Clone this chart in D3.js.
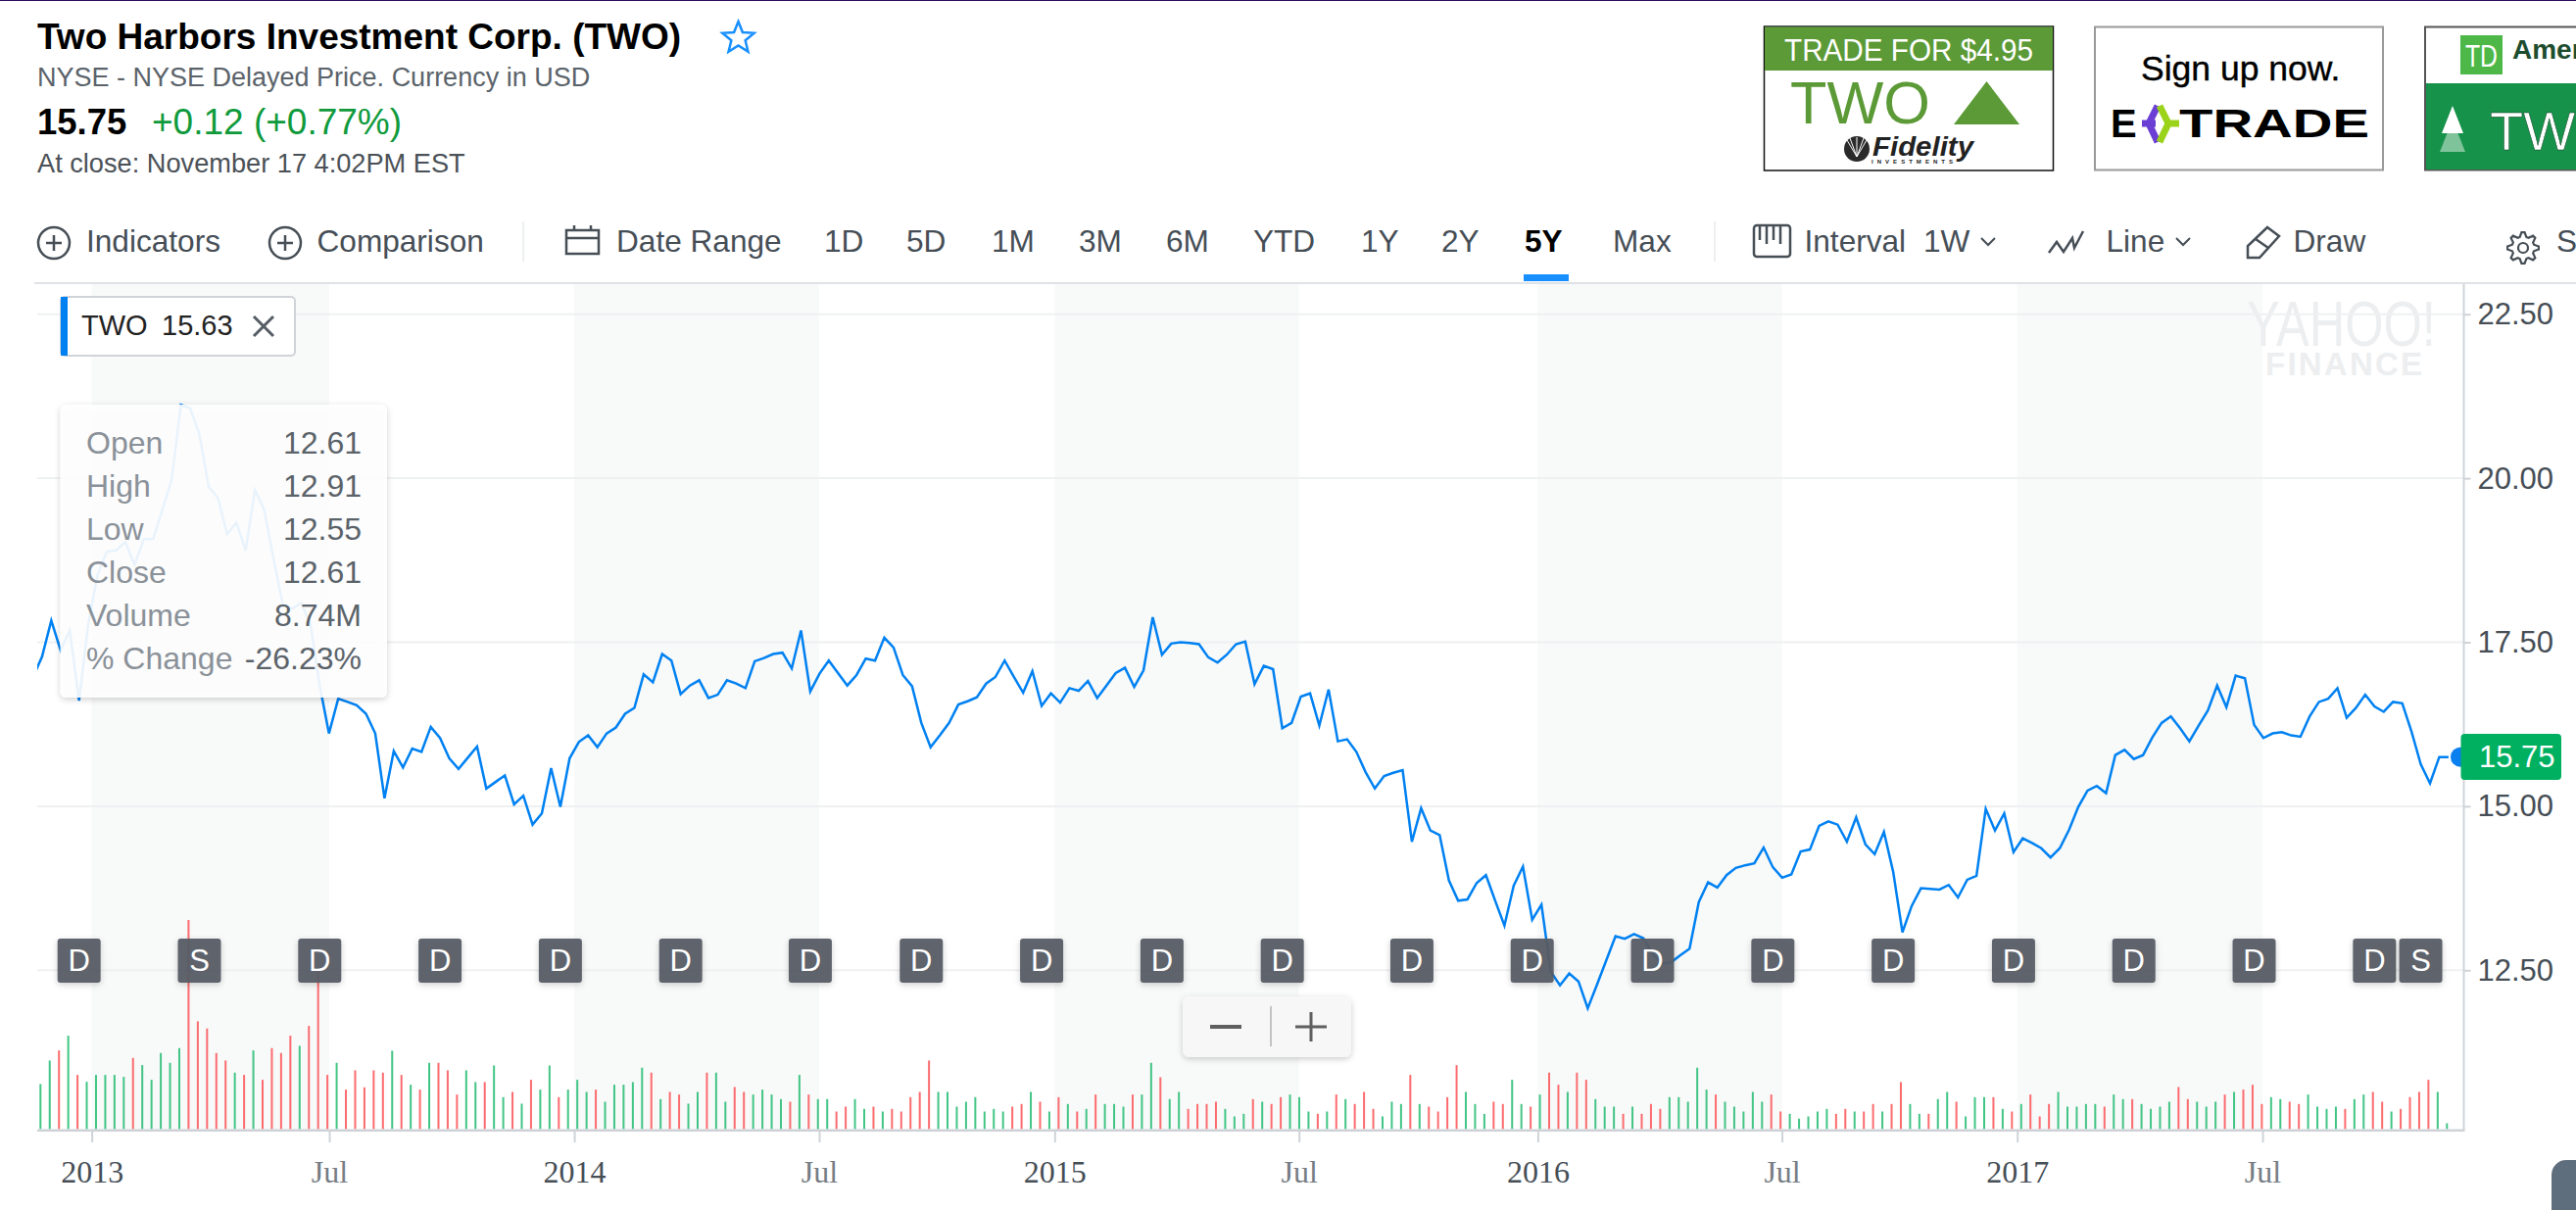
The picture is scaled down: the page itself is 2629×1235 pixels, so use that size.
<!DOCTYPE html>
<html>
<head>
<meta charset="utf-8">
<title>TWO</title>
<script src="https://cdn.jsdelivr.net/npm/d3@7"></script>
<style>
body { margin: 0; background: #fff; }
svg { display: block; }
text { font-family: "Liberation Sans", Arial, sans-serif; }
</style>
</head>
<body>
<div id="chart"></div>
<script>
// weekly close, first one is the week just left of the plot (gets clipped)
var closes = [16.96,
    17.28,17.83,17.38,17.68,16.61,17.78,18.53,18.88,18.90,19.03,
    18.68,19.07,19.07,19.52,19.97,21.12,21.07,20.67,19.87,19.70,
    19.15,19.32,18.90,19.82,19.52,18.78,18.08,18.01,18.10,17.78,
    16.84,16.11,16.64,16.59,16.54,16.41,16.11,15.12,15.84,15.59,
    15.88,15.83,16.21,16.04,15.73,15.57,15.74,15.91,15.27,15.37,
    15.47,15.03,15.16,14.72,14.89,15.58,14.99,15.73,15.98,16.08,
    15.90,16.11,16.20,16.41,16.50,17.01,16.89,17.32,17.22,16.71,
    16.84,16.92,16.65,16.70,16.92,16.87,16.80,17.21,17.26,17.32,
    17.34,17.10,17.68,16.75,17.02,17.22,17.03,16.84,17.00,17.25,
    17.22,17.57,17.42,17.00,16.83,16.27,15.90,16.08,16.27,16.55,
    16.60,16.66,16.87,16.97,17.22,16.97,16.73,17.06,16.53,16.72,
    16.58,16.80,16.76,16.91,16.65,16.84,17.03,17.11,16.82,17.07,
    17.88,17.31,17.48,17.50,17.49,17.47,17.27,17.19,17.31,17.47,
    17.51,16.86,17.14,17.09,16.19,16.27,16.67,16.72,16.23,16.78,
    15.99,16.02,15.83,15.52,15.27,15.46,15.51,15.55,14.46,14.97,
    14.63,14.56,13.87,13.56,13.58,13.83,13.95,13.56,13.18,13.79,
    14.08,13.27,13.50,12.48,12.27,12.45,12.33,11.92,12.28,12.65,
    13.02,12.98,13.05,12.99,12.75,12.60,12.62,12.73,12.83,13.54,
    13.84,13.76,13.95,14.06,14.10,14.13,14.37,14.07,13.91,13.96,
    14.31,14.34,14.70,14.77,14.72,14.46,14.83,14.42,14.27,14.61,
    14.00,13.08,13.48,13.75,13.74,13.73,13.80,13.61,13.88,13.94,
    14.96,14.63,14.89,14.30,14.51,14.44,14.36,14.22,14.36,14.64,
    14.99,15.24,15.31,15.20,15.78,15.86,15.72,15.78,16.05,16.27,
    16.37,16.19,15.99,16.23,16.46,16.84,16.51,16.99,16.95,16.24,
    16.04,16.11,16.13,16.08,16.06,16.37,16.59,16.64,16.80,16.35,
    16.50,16.70,16.52,16.44,16.59,16.57,16.14,15.64,15.35,15.75,
    15.75];

// volume in millions (scale is a guess, only the heights are readable), starts at week 1
var volumes = [
    13.8,21.0,24.1,28.6,16.6,14.5,16.6,16.6,16.6,16.0,
    21.8,19.6,15.1,23.3,20.3,24.8,64.0,33.0,30.8,23.3,
    21.0,17.3,16.6,24.1,15.1,24.8,23.3,28.6,25.5,31.6,
    48.8,16.6,20.3,12.1,18.0,12.8,18.0,17.3,24.0,16.6,
    13.6,12.1,20.3,20.3,18.0,10.6,18.0,14.4,14.4,19.5,
    9.8,11.4,7.8,15.1,12.1,19.5,9.8,12.1,15.1,11.4,
    12.1,8.4,13.6,13.6,14.4,18.8,17.3,9.2,11.4,10.6,
    7.8,11.4,17.3,17.3,8.4,12.9,11.4,10.6,12.1,10.6,
    9.2,8.4,16.6,10.6,9.2,9.2,5.4,6.9,9.2,6.2,
    6.9,5.4,6.2,5.4,9.8,11.4,21.0,11.4,11.4,6.9,
    8.4,9.8,5.4,6.2,5.4,6.9,7.7,11.4,8.4,5.4,
    9.8,7.7,5.4,6.2,10.6,7.7,7.7,6.9,10.6,10.6,
    20.3,15.9,9.2,11.4,6.2,7.7,7.7,8.4,6.2,3.9,
    4.7,9.2,8.4,7.7,9.8,10.6,9.8,5.4,4.7,5.4,
    10.6,9.2,7.7,11.4,6.2,3.9,8.4,7.7,16.6,7.7,
    6.9,5.4,9.8,19.6,11.4,7.7,4.7,8.4,7.7,15.1,
    7.7,6.9,10.6,17.3,13.6,11.4,17.3,15.1,9.2,6.9,
    6.9,4.7,6.9,4.7,7.7,6.2,9.8,9.8,8.4,18.8,
    12.1,10.6,8.4,6.9,5.4,11.4,8.4,10.6,5.4,4.7,
    3.2,3.9,5.4,6.2,4.7,6.2,5.4,5.4,7.7,5.4,
    7.7,14.4,7.7,4.7,4.7,9.2,11.4,8.4,3.9,9.8,
    9.8,9.8,6.2,5.4,7.7,10.6,3.9,7.7,11.4,6.9,
    6.9,7.7,7.7,6.9,10.6,9.2,9.2,7.7,6.2,6.9,
    8.4,12.9,9.2,8.4,6.9,8.4,10.6,11.4,12.1,13.6,
    7.7,9.8,9.2,8.4,7.7,10.6,6.9,6.2,6.9,6.2,
    9.2,10.6,11.4,8.4,5.4,6.2,9.8,11.4,15.1,11.4,
    1.8];

// g = week closed up, r = closed down, ten weeks a piece
var volumeDirs = [
    "ggrgrggggg", "rgggggrrrr", "rgrgrrrrgr", "rrgrrrrrgr", "grgrrrggrg",
    "grgrggrggg", "rgggggrgrr", "ggrggrrggg", "grgrggrrgg", "rgrrrrrggg",
    "gggggrrgrg", "rgrgrgggrg", "grggrrrrgg", "grgrrgggrg", "rgrrrgggrg",
    "rrrrgggrrg", "grgrrgrrgg", "grgrrrgggg", "grgggggrrg", "ggggrrgrrg",
    "rrggrggrgg", "grgrgrrrgg", "gggrggrggg", "grrgggrgrr", "rggrrggggr",
    "ggrrgrrrrg", "g"].join("");

var priceTicks = [12.5, 15, 17.5, 20, 22.5];
var timeTickWeeks = [6.37, 32.03, 58.5, 84.96, 110.4, 136.8, 162.6, 188.98, 214.4, 240.9];
var timeTickLabels = ["2013", "Jul", "2014", "Jul", "2015", "Jul", "2016", "Jul", "2017", "Jul"];
var dividendWeeks = [5, 31, 44, 57, 70, 84, 96, 109, 122, 135, 149, 162, 175, 188, 201, 214, 227, 240, 253];
var splitWeeks = [18, 258];

var tooltipLabels = ["Open", "High", "Low", "Close", "Volume", "% Change"];
var tooltipValues = ["12.61", "12.91", "12.55", "12.61", "8.74M", "-26.23%"];

var rangeButtons = [["1D", 841], ["5D", 925], ["1M", 1012], ["3M", 1101], ["6M", 1190], ["YTD", 1279], ["1Y", 1389], ["2Y", 1471], ["5Y", 1556], ["Max", 1646]];

var width = 2629, height = 1235;
var plotLeft = 38, plotRight = 2514.5, plotTop = 289, plotBottom = 1153;

var svg = d3.select("#chart").append("svg")
    .attr("width", width)
    .attr("height", height);

var defs = svg.append("defs");
defs.append("clipPath").attr("id", "plot-clip").append("rect")
    .attr("x", plotLeft).attr("y", plotTop)
    .attr("width", plotRight - plotLeft).attr("height", plotBottom - plotTop);

var shadow = defs.append("filter").attr("id", "soft").attr("x", "-20%").attr("y", "-20%").attr("width", "140%").attr("height", "150%");
shadow.append("feDropShadow").attr("dx", 0).attr("dy", 2).attr("stdDeviation", 3).attr("flood-color", "#000").attr("flood-opacity", 0.2);

var x = d3.scaleLinear().domain([1, 261]).range([42.9, 2498.9]);
var y = d3.scaleLinear().domain([12.5, 22.5]).range([990.3, 320.7]);
var yVol = d3.scaleLinear().domain([0, 64]).range([plotBottom - 0.5, 939]);

function label(g, str, px, py, size, color, weight) {
    return g.append("text")
        .attr("x", px).attr("y", py)
        .attr("font-size", size)
        .attr("fill", color)
        .attr("font-weight", weight || "normal")
        .text(str);
}

// page header
svg.append("rect").attr("width", width).attr("height", 1).attr("fill", "#2a0a5e");
var head = svg.append("g");
label(head, "Two Harbors Investment Corp. (TWO)", 38, 50, 37, "#000", "bold");
label(head, "NYSE - NYSE Delayed Price. Currency in USD", 38, 87.5, 27, "#5b636a");
label(head, "15.75", 38, 137, 36.5, "#000", "bold");
label(head, "+0.12 (+0.77%)", 155, 137, 37, "#109a3c");
label(head, "At close: November 17 4:02PM EST", 38, 175.5, 27.2, "#4b5157");
head.append("path")
    .attr("d", d3.range(10).map(function(i) {
        var r = i % 2 ? 7.5 : 17, a = -Math.PI / 2 + i * Math.PI / 5;
        return (i ? "L" : "M") + (753.5 + r * Math.cos(a)) + "," + (39 + r * Math.sin(a));
    }).join("") + "Z")
    .attr("fill", "none").attr("stroke", "#188fff").attr("stroke-width", 2.5);

// ads
var ads = svg.append("g");
ads.append("rect").attr("x", 1800.5).attr("y", 27).attr("width", 295).attr("height", 147).attr("fill", "#fff").attr("stroke", "#111").attr("stroke-width", 1.5);
ads.append("rect").attr("x", 1801).attr("y", 27.5).attr("width", 294).attr("height", 44.5).attr("fill", "#5b9a36");
label(ads, "TRADE FOR $4.95", 1821, 62, 32, "#fff").attr("textLength", 254).attr("lengthAdjust", "spacingAndGlyphs");
label(ads, "TWO", 1827, 126, 62, "#5b9a36").attr("textLength", 143).attr("lengthAdjust", "spacingAndGlyphs");
ads.append("path").attr("d", "M2027.5,83L2061,127L1994,127Z").attr("fill", "#5b9a36");
ads.append("circle").attr("cx", 1895).attr("cy", 152).attr("r", 13).attr("fill", "#2a2a2a");
ads.append("path").attr("d", "M1895,160L1885,143M1895,160L1895,140M1895,160L1905,143M1895,160L1888,141M1895,160L1902,141").attr("stroke", "#fff").attr("stroke-width", 1);
label(ads, "Fidelity", 1911, 159, 27, "#222", "bold").attr("font-style", "italic").attr("textLength", 103).attr("lengthAdjust", "spacingAndGlyphs");
label(ads, "INVESTMENTS", 1910, 167, 6, "#222", "bold").attr("textLength", 83);

ads.append("rect").attr("x", 2138).attr("y", 27.5).attr("width", 294).attr("height", 146).attr("fill", "#fff").attr("stroke", "#999").attr("stroke-width", 2);
label(ads, "Sign up now.", 2185, 82, 35.5, "#000").attr("stroke", "#000").attr("stroke-width", 0.4);
label(ads, "E", 2154, 140, 40, "#000", "bold");
label(ads, "TRADE", 2224, 140, 40, "#000", "bold").attr("textLength", 194).attr("lengthAdjust", "spacingAndGlyphs");
ads.append("path").attr("d", "M2202,108L2193,126L2202,145M2186,126H2200").attr("fill", "none").attr("stroke", "#6b3fd4").attr("stroke-width", 7);
ads.append("path").attr("d", "M2204,108L2213,126L2204,145M2209,126H2224").attr("fill", "none").attr("stroke", "#9bd31a").attr("stroke-width", 7);

ads.append("rect").attr("x", 2475).attr("y", 27.5).attr("width", 160).attr("height", 146).attr("fill", "#fff").attr("stroke", "#555").attr("stroke-width", 2);
ads.append("rect").attr("x", 2476).attr("y", 85).attr("width", 160).attr("height", 88).attr("fill", "#16924a");
ads.append("rect").attr("x", 2511).attr("y", 36).attr("width", 43).attr("height", 40).attr("fill", "#4db848");
label(ads, "TD", 2516, 68, 32, "#fff").attr("textLength", 33).attr("lengthAdjust", "spacingAndGlyphs");
label(ads, "Amer", 2564, 60, 28, "#1d4d2e", "bold");
label(ads, "TWO", 2541, 153, 56, "#fff").attr("stroke", "#0b3a1d").attr("stroke-width", 0.5);
ads.append("path").attr("d", "M2503,108L2514,136L2492,136Z").attr("fill", "#fff");
ads.append("path").attr("d", "M2503,122L2516,155L2490,155Z").attr("fill", "#fff").attr("opacity", 0.45);

// toolbar
var bar = svg.append("g");
var toolColor = "#464e56";
function tool(str, px) { return label(bar, str, px, 256.5, 31.6, toolColor); }
function plusCircle(cx) {
    bar.append("circle").attr("cx", cx).attr("cy", 248).attr("r", 16).attr("fill", "none").attr("stroke", toolColor).attr("stroke-width", 2.5);
    bar.append("path").attr("d", "M" + (cx - 8) + ",248H" + (cx + 8) + "M" + cx + ",240V256").attr("stroke", toolColor).attr("stroke-width", 2.5);
}
plusCircle(55);
tool("Indicators", 88);
plusCircle(291);
tool("Comparison", 323.5);
bar.append("rect").attr("x", 533.5).attr("y", 226).attr("width", 1).attr("height", 41).attr("fill", "#dde0e4");
bar.append("rect").attr("x", 578).attr("y", 235).attr("width", 33).attr("height", 24).attr("fill", "none").attr("stroke", toolColor).attr("stroke-width", 2.5);
bar.append("path").attr("d", "M578,243H611M586,230V236M603,230V236").attr("stroke", toolColor).attr("stroke-width", 2.5);
tool("Date Range", 629);
rangeButtons.forEach(function(b) {
    if (b[0] === "5Y") label(bar, b[0], b[1], 256.5, 31.6, "#000", "bold");
    else tool(b[0], b[1]);
});
bar.append("rect").attr("x", 1555).attr("y", 280).attr("width", 46).attr("height", 7).attr("fill", "#188fff");
bar.append("rect").attr("x", 1749.5).attr("y", 226).attr("width", 1).attr("height", 41).attr("fill", "#dde0e4");
bar.append("rect").attr("x", 1790).attr("y", 230).attr("width", 37).attr("height", 32).attr("rx", 3).attr("fill", "none").attr("stroke", toolColor).attr("stroke-width", 2.5);
bar.append("path").attr("d", "M1796,231V245M1803,231V249M1810,231V245M1817,231V249").attr("stroke", toolColor).attr("stroke-width", 2.5);
tool("Interval", 1841.5);
tool("1W", 1963);
function chevron(cx) {
    bar.append("path").attr("d", "M" + (cx - 7) + ",243L" + cx + ",250L" + (cx + 7) + ",243").attr("fill", "none").attr("stroke", toolColor).attr("stroke-width", 2);
}
chevron(2029);
bar.append("path").attr("d", "M2091,258L2099,247L2106,257L2115,243L2117,253L2126,236").attr("fill", "none").attr("stroke", toolColor).attr("stroke-width", 2.5);
tool("Line", 2149.5);
chevron(2228);
bar.append("path").attr("d", "M2314,232L2326,241L2306,263H2294V251Z M2302,244L2315,253").attr("fill", "none").attr("stroke", toolColor).attr("stroke-width", 2.5);
tool("Draw", 2340.5);
// gear, eight teeth
bar.append("path")
    .attr("d", d3.range(32).map(function(i) {
        var r = (i % 4 < 2) ? 16 : 11.5, a = (i - 0.5) * Math.PI / 16;
        return (i ? "L" : "M") + (2575 + r * Math.cos(a)) + "," + (253 + r * Math.sin(a));
    }).join("") + "Z")
    .attr("fill", "none").attr("stroke", toolColor).attr("stroke-width", 2.2);
bar.append("circle").attr("cx", 2575).attr("cy", 253).attr("r", 5).attr("fill", "none").attr("stroke", toolColor).attr("stroke-width", 2.2);
tool("S", 2609);

// chart background
var plot = svg.append("g");
d3.range(0, timeTickWeeks.length - 1, 2).forEach(function(i) {
    plot.append("rect")
        .attr("x", x(timeTickWeeks[i])).attr("y", plotTop + 1)
        .attr("width", x(timeTickWeeks[i + 1]) - x(timeTickWeeks[i]))
        .attr("height", plotBottom - plotTop - 1)
        .attr("fill", "#f8f9f9");
});

// watermark, squeezed with a transform so the box stays inside the plot
label(plot, "YAHOO!", 0, 0, 64, "#eceef0").attr("transform", "translate(2293,353) scale(0.79,1)");
label(plot, "FINANCE", 2312, 383, 33, "#eceef0", "bold").attr("textLength", 160);

plot.selectAll(".grid").data(priceTicks).enter().append("line")
    .attr("class", "grid")
    .attr("x1", plotLeft).attr("x2", plotRight)
    .attr("y1", y).attr("y2", y)
    .attr("stroke", "#eef0f2").attr("stroke-width", 2);

// volume
plot.append("g").attr("clip-path", "url(#plot-clip)")
    .selectAll("rect").data(volumes).enter().append("rect")
    .attr("x", function(d, i) { return x(i + 1) - 2.6; })
    .attr("y", function(d) { return yVol(d); })
    .attr("width", 2)
    .attr("height", function(d) { return yVol(0) - yVol(d); })
    .attr("fill", function(d, i) { return volumeDirs[i] === "g" ? "#43c585" : "#fb6c6f"; });

// price line
var line = d3.line()
    .x(function(d, i) { return x(i); })
    .y(function(d) { return y(d); });
plot.append("g").attr("clip-path", "url(#plot-clip)")
    .append("path").datum(closes)
    .attr("d", line)
    .attr("fill", "none")
    .attr("stroke", "#0081f2")
    .attr("stroke-width", 2.5)
    .attr("stroke-linejoin", "miter");

// axes
var xAxis = d3.axisBottom(x)
    .tickValues(timeTickWeeks)
    .tickFormat(function(d, i) { return timeTickLabels[i]; })
    .tickSize(13).tickPadding(18);
var xg = svg.append("g").attr("transform", "translate(0," + plotBottom + ")").call(xAxis);
xg.select(".domain").remove();
xg.selectAll("line").attr("stroke", "#cfd3d8").attr("stroke-width", 2);
xg.selectAll("text")
    .style("font-family", "'Liberation Serif', serif")
    .attr("font-size", 32)
    .attr("fill", function(d, i) { return timeTickLabels[i] === "Jul" ? "#767d84" : "#464e56"; });
svg.append("rect").attr("x", plotLeft).attr("y", plotBottom - 0.5).attr("width", plotRight - plotLeft + 1).attr("height", 2.5).attr("fill", "#cfd3d8");

var yAxis = d3.axisRight(y)
    .tickValues(priceTicks)
    .tickFormat(d3.format(".2f"))
    .tickSize(7).tickPadding(7);
var yg = svg.append("g").attr("transform", "translate(" + plotRight + ",0)").call(yAxis);
yg.select(".domain").remove();
yg.selectAll("line").attr("stroke", "#cfd3d8").attr("stroke-width", 2);
yg.selectAll("text").attr("font-size", 31).attr("fill", "#464e56");
svg.append("rect").attr("x", plotRight - 1).attr("y", plotTop).attr("width", 2).attr("height", plotBottom - plotTop).attr("fill", "#cfd3d8");
svg.append("rect").attr("x", 35).attr("y", plotTop - 1).attr("width", width - 35).attr("height", 2).attr("fill", "#dfe2e6");

// dividend and split flags
var flags = dividendWeeks.map(function(w) { return {week: w, type: "D"}; })
    .concat(splitWeeks.map(function(w) { return {week: w, type: "S"}; }));
var flag = svg.selectAll(".flag").data(flags).enter().append("g")
    .attr("class", "flag")
    .attr("transform", function(d) { return "translate(" + x(d.week) + ",958)"; });
flag.append("rect")
    .attr("x", -22).attr("width", 44).attr("height", 45).attr("rx", 3)
    .attr("fill", "#565d65").attr("fill-opacity", 0.95)
    .attr("filter", "url(#soft)");
flag.append("text")
    .attr("y", 33).attr("text-anchor", "middle")
    .attr("font-size", 31).attr("fill", "#fff")
    .text(function(d) { return d.type; });

// zoom control
var zoomCtl = svg.append("g");
zoomCtl.append("rect").attr("x", 1207).attr("y", 1017).attr("width", 172).attr("height", 62).attr("rx", 7).attr("fill", "#f7f7f7").attr("filter", "url(#soft)");
zoomCtl.append("path").attr("d", "M1235,1048H1267").attr("stroke", "#5f5f5f").attr("stroke-width", 4);
zoomCtl.append("path").attr("d", "M1297,1027V1068").attr("stroke", "#c4c4c4").attr("stroke-width", 2);
zoomCtl.append("path").attr("d", "M1322,1048H1354M1338,1033V1063").attr("stroke", "#5f5f5f").attr("stroke-width", 3);

// legend chip
var chip = svg.append("g");
chip.append("rect").attr("x", 62).attr("y", 303).attr("width", 239).attr("height", 60).attr("rx", 4).attr("fill", "#fff").attr("stroke", "#d0d3d8").attr("stroke-width", 2);
chip.append("rect").attr("x", 62).attr("y", 303).attr("width", 7).attr("height", 60).attr("fill", "#0081f2");
label(chip, "TWO", 83, 342, 29, "#222");
label(chip, "15.63", 165, 342, 29, "#222");
chip.append("path").attr("d", "M259,323L279,343M279,323L259,343").attr("stroke", "#555c64").attr("stroke-width", 3);

// tooltip
var tip = svg.append("g");
tip.append("rect").attr("x", 61.5).attr("y", 413).attr("width", 333.5).attr("height", 299).attr("rx", 6)
    .attr("fill", "#fff").attr("fill-opacity", 0.9).attr("filter", "url(#soft)");
tooltipLabels.forEach(function(d, i) {
    label(tip, d, 88, 462.5 + i * 44, 32, "#8a9199");
    label(tip, tooltipValues[i], 369, 462.5 + i * 44, 32, "#5b636a").attr("text-anchor", "end");
});

// last price marker
svg.append("circle").attr("cx", 2511).attr("cy", y(15.75)).attr("r", 10).attr("fill", "#0a7ff0");
svg.append("rect").attr("x", 2511.5).attr("y", 749).attr("width", 102.5).attr("height", 47).attr("rx", 4).attr("fill", "#00b061");
label(svg, "15.75", 2530, 783, 31, "#fff");

// bit of a scrollbar button in the corner
svg.append("path").attr("d", "M2629,1184H2619A15,15 0 0 0 2604,1199V1235H2629Z").attr("fill", "#5f6e7c");
</script>
</body>
</html>
